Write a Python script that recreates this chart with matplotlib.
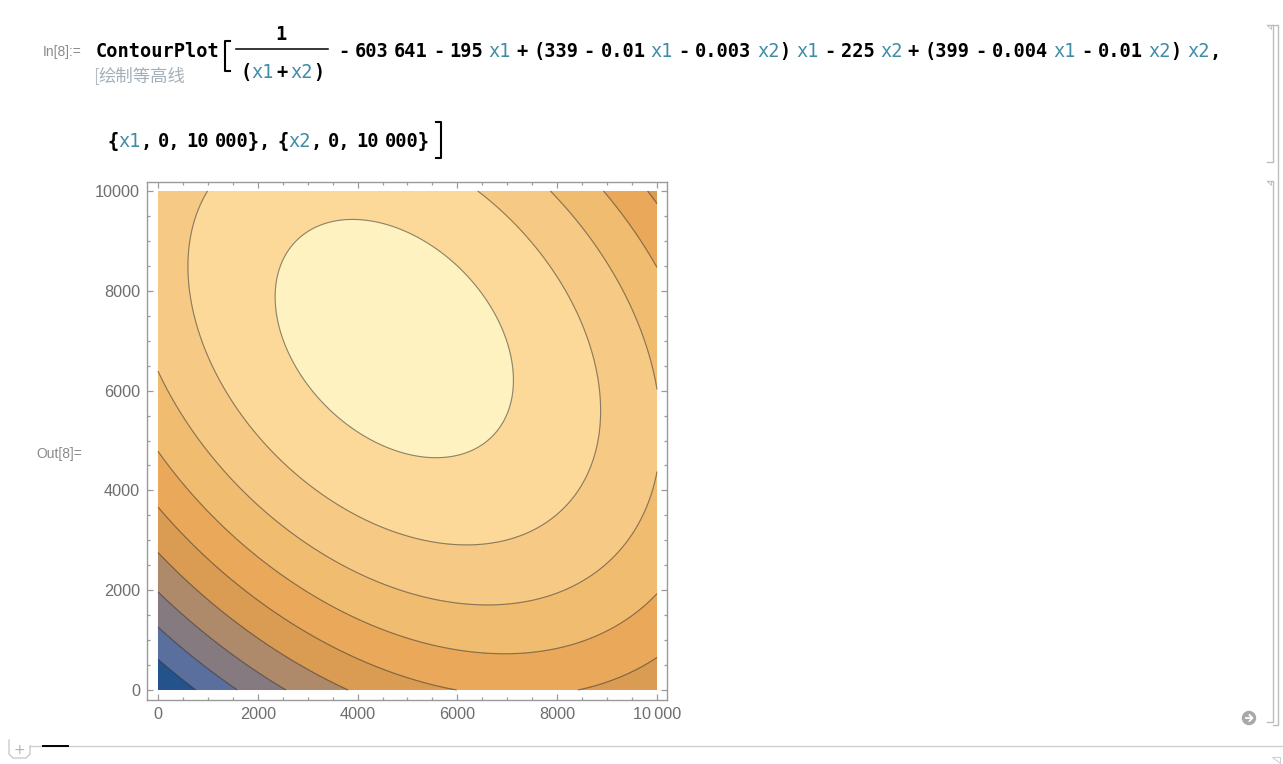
import re
import numpy as np
import matplotlib
matplotlib.use("Agg")
import matplotlib.pyplot as plt
from matplotlib.patches import Circle

# function shown in the input cell
const = -603641
lin = [-195, -225]            # -195 x1, -225 x2
coef_x1 = [339, -0.01, -0.003]  # (339 - 0.01 x1 - 0.003 x2) x1
coef_x2 = [399, -0.004, -0.01]  # (399 - 0.004 x1 - 0.01 x2) x2
x_range = [0, 10000]

levels = [-500000, -400000, -300000, -200000, -100000, 0, 100000, 200000, 300000]
band_colors = ["#24528a", "#5b6f9f", "#857a7f", "#ae8a6a", "#da9b53",
               "#e9a85a", "#f0bc70", "#f6c985", "#fcd998", "#fef2c0"]

ticks = [0, 2000, 4000, 6000, 8000, 10000]
minor_ticks = np.arange(0, 10001, 500)
xtick_labels = ["0", "2000", "4000", "6000", "8000", "10\u2009000"]
ytick_labels = ["0", "2000", "4000", "6000", "8000", "10000"]

line1_tail = "- 603 641 - 195 x1 + (339 - 0.01 x1 - 0.003 x2) x1 - 225 x2 + (399 - 0.004 x1 - 0.01 x2) x2,"
line2 = "{x1, 0, 10 000}, {x2, 0, 10 000}"
denominator = "(x1 + x2)"

TEAL = "#3f8ca6"
MONO = "DejaVu Sans Mono"

fig = plt.figure(figsize=(12.83, 7.64), dpi=100)
bg = fig.add_axes([0, 0, 1, 1])
bg.set_xlim(0, 1283)
bg.set_ylim(764, 0)
bg.axis("off")
renderer = fig.canvas.get_renderer()


def run(text, x0, x1, y, size=13.4):
    # lay out words from x0 to x1, variables teal, the rest bold black
    words = []
    for w in text.split(" "):
        parts = []
        for p in re.split(r"(x1|x2)", w):
            if not p:
                continue
            var = p in ("x1", "x2")
            t = bg.text(0, y, p, fontfamily=MONO, fontsize=size,
                        fontweight="normal" if var else "bold",
                        color=TEAL if var else "black", va="baseline", ha="left")
            parts.append(t)
        words.append(parts)
    widths = [[t.get_window_extent(renderer).width for t in ps] for ps in words]
    total = sum(sum(ws) for ws in widths)
    gap = (x1 - x0 - total) / max(len(words) - 1, 1)
    x = x0
    for ps, ws in zip(words, widths):
        for t, w in zip(ps, ws):
            t.set_x(x)
            x += w
        x += gap


# input cell
bg.text(43, 56, "In[8]:=", fontfamily="Liberation Sans", fontsize=10, color="#8a8a8a", va="baseline")
bg.text(96, 57, "ContourPlot", fontfamily=MONO, fontsize=13.4, fontweight="bold", va="baseline")
bg.plot([230, 225, 225, 230], [41, 41, 71, 71], color="black", lw=1.5)
bg.text(281, 40, "1", fontfamily=MONO, fontsize=13.4, fontweight="bold", ha="center", va="baseline")
bg.plot([236, 328], [49, 49], color="black", lw=1.1)
run(denominator, 240, 324, 78)
run(line1_tail, 338, 1221, 57)
bg.plot([98, 95.5, 95.5, 98], [68, 68, 84, 84], color="#b3bcc4", lw=0.8)
bg.text(98, 82, "绘制等高线", fontfamily=["Noto Sans CJK SC", "DejaVu Sans"], fontsize=12.5,
        color="#a3b0ba", va="baseline")
run(line2, 107, 430, 147)
bg.plot([436, 441, 441, 436], [122, 122, 158, 158], color="black", lw=1.5)

bg.text(36, 458, "Out[8]=", fontfamily="Liberation Sans", fontsize=10, color="#8a8a8a", va="baseline")

# cell brackets
bc = "#bdbdbd"
bg.plot([1267, 1273, 1273, 1267], [25, 25, 162, 162], color=bc, lw=1)
bg.plot([1267, 1273, 1273, 1267], [181, 181, 722, 722], color=bc, lw=1)
bg.plot([1273, 1278, 1278, 1273], [25, 25, 725, 725], color=bc, lw=1)
bg.fill([1267, 1271, 1271], [25, 25, 29], color="white", ec=bc, lw=0.6)
bg.fill([1267, 1271, 1271], [181, 181, 185], color="white", ec=bc, lw=0.6)
bg.add_patch(Circle((1249, 718), 6.5, color="#a8a8a8"))
bg.plot([1245.5, 1252], [718, 718], color="white", lw=1.3)
bg.plot([1249.5, 1252.5, 1249.5], [715, 718, 721], color="white", lw=1.3)

# bottom insertion line
bg.plot([30, 1283], [746, 746], color="#d0d0d0", lw=1)
bg.plot([43, 68], [746, 746], color="black", lw=1.4)
bg.plot([9, 9, 13, 26, 30, 30], [740, 754, 758, 758, 754, 746], color="#c4c4c4", lw=0.9)
bg.text(19.5, 750, "+", fontfamily="DejaVu Sans", fontsize=10, color="#b0b0b0", ha="center", va="center")
bg.fill([1272, 1280, 1280], [757, 757, 763], color="white", ec="#c4c4c4", lw=0.6)

# contour plot
ax = fig.add_axes([147 / 1283, (764 - 700) / 764, 520 / 1283, 518 / 764])
g = np.linspace(x_range[0], x_range[1], 500)
X1, X2 = np.meshgrid(g, g)
s = X1 + X2
inv = np.divide(1.0, s, out=np.zeros_like(s), where=s > 0)
Z = (inv + const + lin[0] * X1 + (coef_x1[0] + coef_x1[1] * X1 + coef_x1[2] * X2) * X1
     + lin[1] * X2 + (coef_x2[0] + coef_x2[1] * X1 + coef_x2[2] * X2) * X2)

ax.contourf(X1, X2, Z, levels=[Z.min() - 1] + levels + [Z.max() + 1], colors=band_colors,
            antialiased=True)
ax.contour(X1, X2, Z, levels=levels, colors=[(0, 0, 0, 0.45)], linewidths=0.8,
           linestyles="solid")

ax.set_xlim(-220, 10200)
ax.set_ylim(-200, 10180)
ax.set_xticks(ticks)
ax.set_xticklabels(xtick_labels)
ax.set_yticks(ticks)
ax.set_yticklabels(ytick_labels)
ax.set_xticks(minor_ticks, minor=True)
ax.set_yticks(minor_ticks, minor=True)
ax.tick_params(which="both", direction="in", top=True, right=True, color="#9a9a9a", width=0.9)
ax.tick_params(which="major", length=4.5, labelsize=11.7, labelcolor="#6e6e6e", pad=5)
ax.tick_params(which="minor", length=2.5)
for lab in ax.get_xticklabels() + ax.get_yticklabels():
    lab.set_fontfamily(["Liberation Sans", "DejaVu Sans"])
for sp in ax.spines.values():
    sp.set_color("#9a9a9a")
    sp.set_linewidth(1)

fig.savefig("out.png", dpi=100)
